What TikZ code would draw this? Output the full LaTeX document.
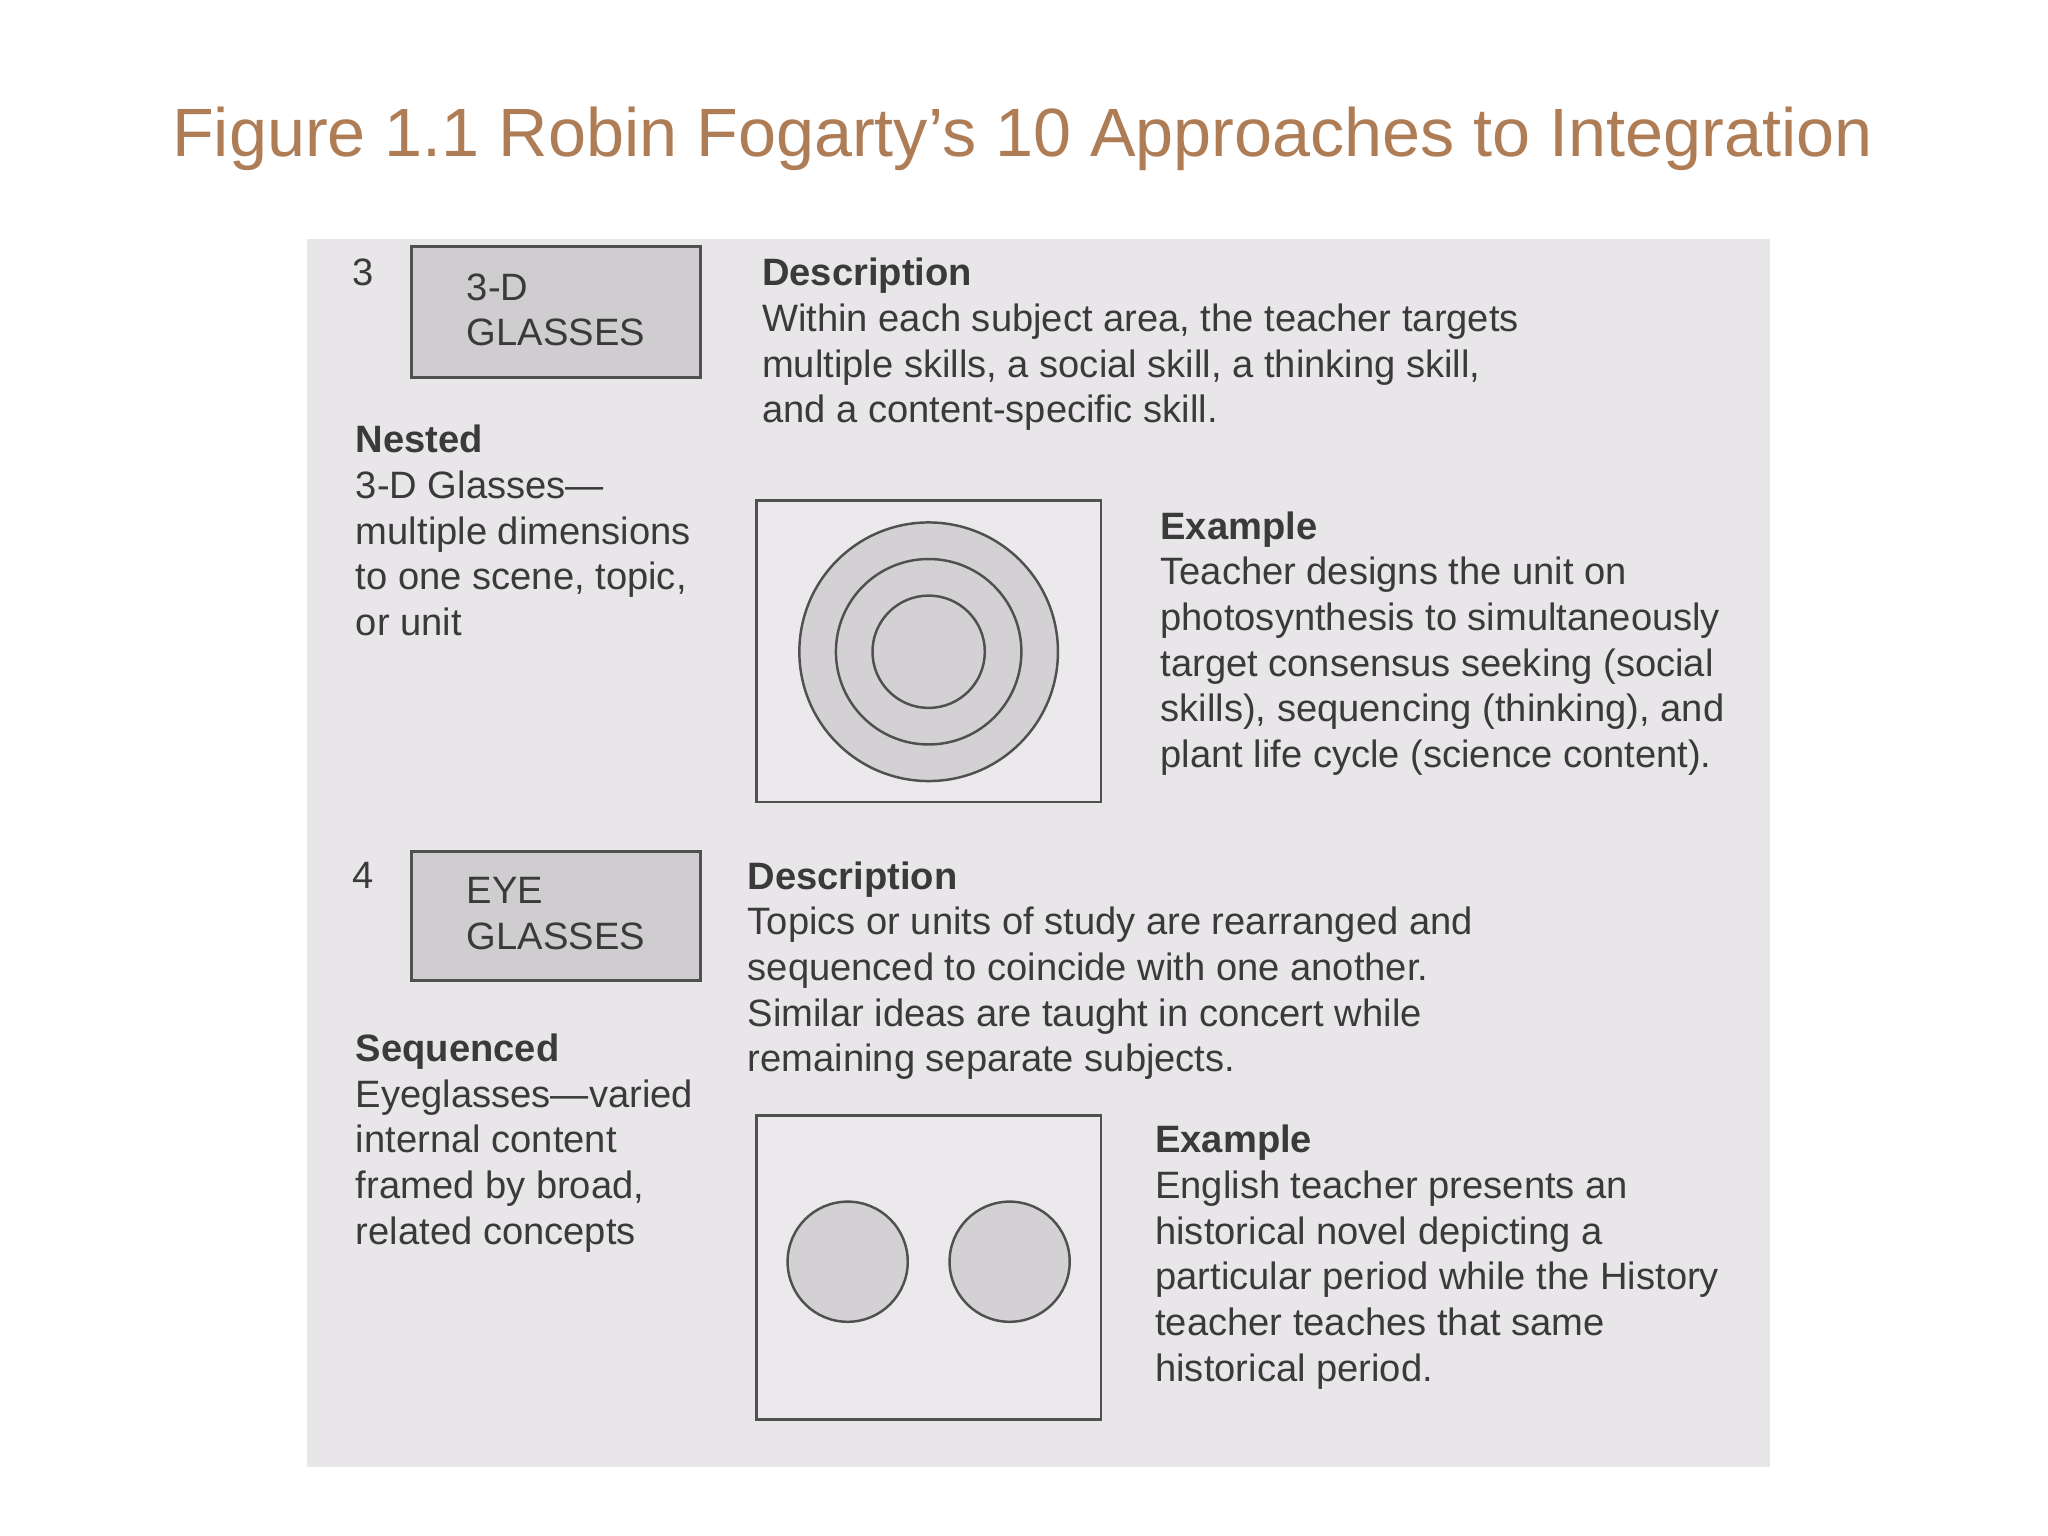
\documentclass[tikz,border=0pt]{standalone}
\usepackage{fontspec}
\setmainfont{Liberation Sans}
\usetikzlibrary{positioning}
\definecolor{titlebrown}{HTML}{AF7D55}
\definecolor{panelgray}{HTML}{E8E6E8}
\definecolor{framegray}{HTML}{EBE9EB}
\definecolor{boxgray}{HTML}{CFCDCF}
\definecolor{ringgray}{HTML}{D3D1D3}
\definecolor{inkgray}{HTML}{3A3A3A}
\definecolor{linegray}{HTML}{505050}
\tikzset{
  bodytxt/.style={anchor=north west, inner sep=0pt, align=left, text=inkgray, font=\fontsize{10.85}{13}\selectfont},
  numtxt/.style={anchor=north, inner sep=0pt, text=inkgray, font=\fontsize{10.85}{13}\selectfont},
  glassbox/.style={draw=linegray, fill=boxgray, line width=0.9pt},
  exframe/.style={draw=linegray, fill=framegray, line width=0.8pt},
  ring/.style={draw=linegray, fill=ringgray, line width=0.7pt}
}
\begin{document}
\begin{tikzpicture}[x=0.01306cm, y=-0.01306cm]
    \useasboundingbox[fill=white] (0,0) rectangle (1568,1176);
    \node[anchor=base, inner sep=0pt, text=titlebrown, font=\fontsize{19.45}{23}\selectfont] (title) at (783,120) {Figure 1.1 Robin Fogarty’s 10 Approaches to Integration};
    \fill[panelgray] (235,183) rectangle (1355,1123);

    % 3: nested
    \node[numtxt] (num3) at (278,198) {3};
    \draw[glassbox] (315,189) rectangle (536,289);
    \node[bodytxt] (lbl3) at (357,209) {3-D\\GLASSES};
    \node[bodytxt] (desc3) at (583,197) {\textbf{Description}\\Within each subject area, the teacher targets\\multiple skills, a social skill, a thinking skill,\\and a content-specific skill.};
    \node[bodytxt] (nest) at (272,325) {\textbf{Nested}\\3-D Glasses—\\multiple dimensions\\to one scene, topic,\\or unit};
    \draw[exframe] (579,383) rectangle (843,614);
    \draw[ring] (711,499) circle[radius=99];
    \draw[ring] (711,499) circle[radius=71];
    \draw[ring] (711,499) circle[radius=43];
    \node[bodytxt] (ex3) at (888,391) {\textbf{Example}\\Teacher designs the unit on\\photosynthesis to simultaneously\\target consensus seeking (social\\skills), sequencing (thinking), and\\plant life cycle (science content).};

    % 4: sequenced
    \node[numtxt] (num4) at (278,660) {4};
    \draw[glassbox] (315,652) rectangle (536,751);
    \node[bodytxt] (lbl4) at (357,671) {EYE\\GLASSES};
    \node[bodytxt] (desc4) at (572,659) {\textbf{Description}\\Topics or units of study are rearranged and\\sequenced to coincide with one another.\\Similar ideas are taught in concert while\\remaining separate subjects.};
    \node[bodytxt] (seq) at (272,791) {\textbf{Sequenced}\\Eyeglasses—varied\\internal content\\framed by broad,\\related concepts};
    \draw[exframe] (579,854) rectangle (843,1087);
    \draw[ring] (649,966) circle[radius=46];
    \draw[ring] (773,966) circle[radius=46];
    \node[bodytxt] (ex4) at (884,861) {\textbf{Example}\\English teacher presents an\\historical novel depicting a\\particular period while the History\\teacher teaches that same\\historical period.};
\end{tikzpicture}
\end{document}
